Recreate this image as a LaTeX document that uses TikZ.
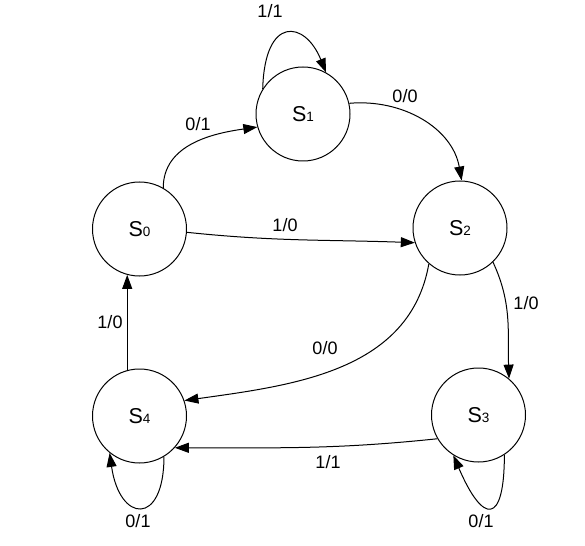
\documentclass[tikz,border=0pt]{standalone}
\usepackage{fontspec}
\setmainfont{Liberation Sans}
\usetikzlibrary{arrows.meta}

\newcommand{\stname}[1]{S{\fontsize{13.5}{13.5}\selectfont #1}}

\begin{document}
\begin{tikzpicture}[x=1pt,y=-1pt,
        state/.style={draw,circle,line width=1pt,minimum size=94pt,inner sep=0pt,font=\fontsize{21.5}{21.5}\selectfont},
        lbl/.style={inner sep=1pt,font=\fontsize{18}{18}\selectfont},
        every path/.style={line width=1pt},
        tr/.style={-{Triangle[length=14pt,width=10pt]}}]

    \useasboundingbox (0,0) rectangle (585,545);

    \node[state] (s0) at (139.5,229) {\stname{0}};
    \node[state] (s1) at (303,114) {\stname{1}};
    \node[state] (s2) at (460,228) {\stname{2}};
    \node[state] (s3) at (478.5,415) {\stname{3}};
    \node[state] (s4) at (139.5,416) {\stname{4}};

    % transitions
    \draw[tr] (s0.60) to[out=90,in=188] (s1.196);
    \draw[tr] (s1.148) .. controls +(2,-74) and +(-21,-52) .. (s1.61);
    \draw[tr] (s1.13) to[out=5,in=100] (s2.88);
    \draw[tr] (s0.-4) to[out=-6,in=178] (s2.198);
    \draw[tr] (s2.229) to[out=-100,in=8] (s4.19);
    \draw[tr] (s2.-46) to[out=-65,in=92] (s3.50);
    \draw[tr] (s3.210) to[out=186,in=0] (s4.-42);
    \draw[tr] (s4.105) -- (s0.255);
    \draw[tr] (s4.-59) .. controls +(0,70) and +(10,70) .. (s4.231);
    \draw[tr] (s3.-57) .. controls +(0,70) and +(30,70) .. (s3.238);

    % labels
    \node[lbl] (l11a) at (270,11) {1/1};
    \node[lbl] (l01a) at (198,124) {0/1};
    \node[lbl] (l00a) at (405,96) {0/0};
    \node[lbl] (l10a) at (285,225) {1/0};
    \node[lbl] (l10b) at (526,303) {1/0};
    \node[lbl] (l00b) at (325,348) {0/0};
    \node[lbl] (l10c) at (110,322) {1/0};
    \node[lbl] (l11b) at (328,462) {1/1};
    \node[lbl] (l01b) at (138,521) {0/1};
    \node[lbl] (l01c) at (481,521) {0/1};
\end{tikzpicture}
\end{document}
